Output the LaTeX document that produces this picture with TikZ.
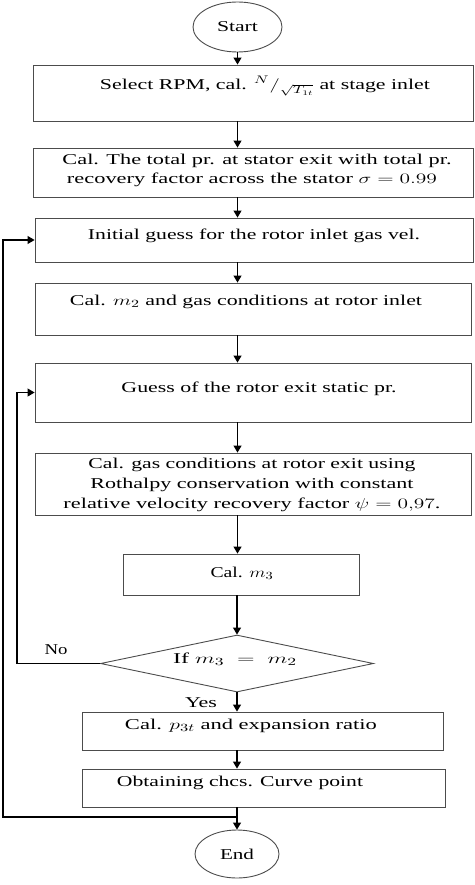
\documentclass[tikz,border=0pt]{standalone}
\usepackage{fontspec}
\usepackage{graphicx}
\setmainfont{Liberation Serif}
\usetikzlibrary{shapes.geometric,arrows.meta}
\newcommand\fitw[2]{\resizebox{#1pt}{\height}{#2}}
\begin{document}
\begin{tikzpicture}[x=1pt,y=-1pt,
  font=\fontsize{15}{18}\selectfont,
  box/.style={draw=black!70,line width=0.9pt,rectangle,inner sep=0pt},
  term/.style={draw=black!70,line width=0.9pt,ellipse,inner sep=0pt},
  txt/.style={inner sep=0pt,align=center},
  conn/.style={line width=1.2pt,black},
  arr/.style={conn,-{Triangle[length=7pt,width=8pt]}}
]
\useasboundingbox (0,0) rectangle (474,885);
\node[term,minimum width=89pt,minimum height=50pt] (start) at (237.5,27) {\fitw{41}{Start}};
\node[box,minimum width=440pt,minimum height=56pt] (b1) at (253,93) {};
\node[box,minimum width=440pt,minimum height=49pt] (b2) at (253,172.5) {};
\node[box,minimum width=438pt,minimum height=44pt] (b3) at (254,240) {};
\node[box,minimum width=436pt,minimum height=52pt] (b4) at (253,309) {};
\node[box,minimum width=436pt,minimum height=59pt] (b5) at (253,392.5) {};
\node[box,minimum width=436pt,minimum height=62pt] (b6) at (253,484) {};
\node[box,minimum width=236pt,minimum height=41pt] (b7) at (241,574.5) {};
\node[draw=black!70,line width=0.9pt,diamond,inner sep=0pt,minimum width=273pt,minimum height=57pt] (dia) at (237,663.5) {};
\node[box,minimum width=361pt,minimum height=38pt] (b8) at (262.5,731) {};
\node[box,minimum width=363pt,minimum height=38pt] (b9) at (263.5,788) {};
\node[term,minimum width=84pt,minimum height=48pt] (end) at (237,854) {\fitw{34}{End}};

\node[txt] (t1) at (265,86) {\fitw{330}{Select RPM, cal. ${}^{N}\big/_{\sqrt{T_{1t}}}$ at stage inlet}};
\node[txt] (t2a) at (257,161) {\fitw{389}{Cal. The total pr. at stator exit with total pr.}};
\node[txt] (t2b) at (252,180) {\fitw{370}{recovery factor across the stator $\sigma = 0.99$}};
\node[txt] (t3) at (254,236) {\fitw{332}{Initial guess for the rotor inlet gas vel.}};
\node[txt] (t4) at (246,302) {\fitw{352}{Cal. $m_2$ and gas conditions at rotor inlet}};
\node[txt] (t5) at (259,389) {\fitw{275}{Guess of the rotor exit static pr.}};
\node[txt] (t6a) at (252,465) {\fitw{327}{Cal. gas conditions at rotor exit using}};
\node[txt] (t6b) at (252,485) {\fitw{323}{Rothalpy conservation with constant}};
\node[txt] (t6c) at (252,505) {\fitw{377}{relative velocity recovery factor $\psi = 0{,}97$.}};
\node[txt] (t7) at (242,573) {\fitw{63}{Cal. $m_3$}};
\node[txt] (t8) at (235,659) {\fitw{124}{If $m_3 \;=\; m_2$}};
\node[txt] (t9) at (251,726) {\fitw{252}{Cal. $p_{3t}$ and expansion ratio}};
\node[txt] (t10) at (240,783) {\fitw{246}{Obtaining chcs. Curve point}};
\node[txt] (no) at (56,650) {\fitw{23}{No}};
\node[txt] (yes) at (201,703) {\fitw{32}{Yes}};

\draw[arr] (start.south) -- (b1.north -| start.south);
\draw[arr] (b1.south -| start.south) -- (b2.north -| start.south);
\draw[arr] (b2.south -| start.south) -- (b3.north -| start.south);
\draw[arr] (b3.south -| start.south) -- (b4.north -| start.south);
\draw[arr] (b4.south -| start.south) -- (b5.north -| start.south);
\draw[arr] (b5.south -| start.south) -- (b6.north -| start.south);
\draw[arr] (b6.south -| start.south) -- (b7.north -| start.south);
\draw[arr] (b7.south -| dia.north) -- (dia.north);
\draw[arr] (dia.south) -- (b8.north -| dia.south);
\draw[arr] (b8.south -| dia.south) -- (b9.north -| dia.south);
\coordinate (J) at (237,817);
\draw[arr] (b9.south -| end.north) -- (end.north);
\draw[arr] (dia.west) -- ++(-83,0) |- (b5.west);
\draw[arr] (J) -- ++(-234,0) |- (b3.west);
\end{tikzpicture}
\end{document}
